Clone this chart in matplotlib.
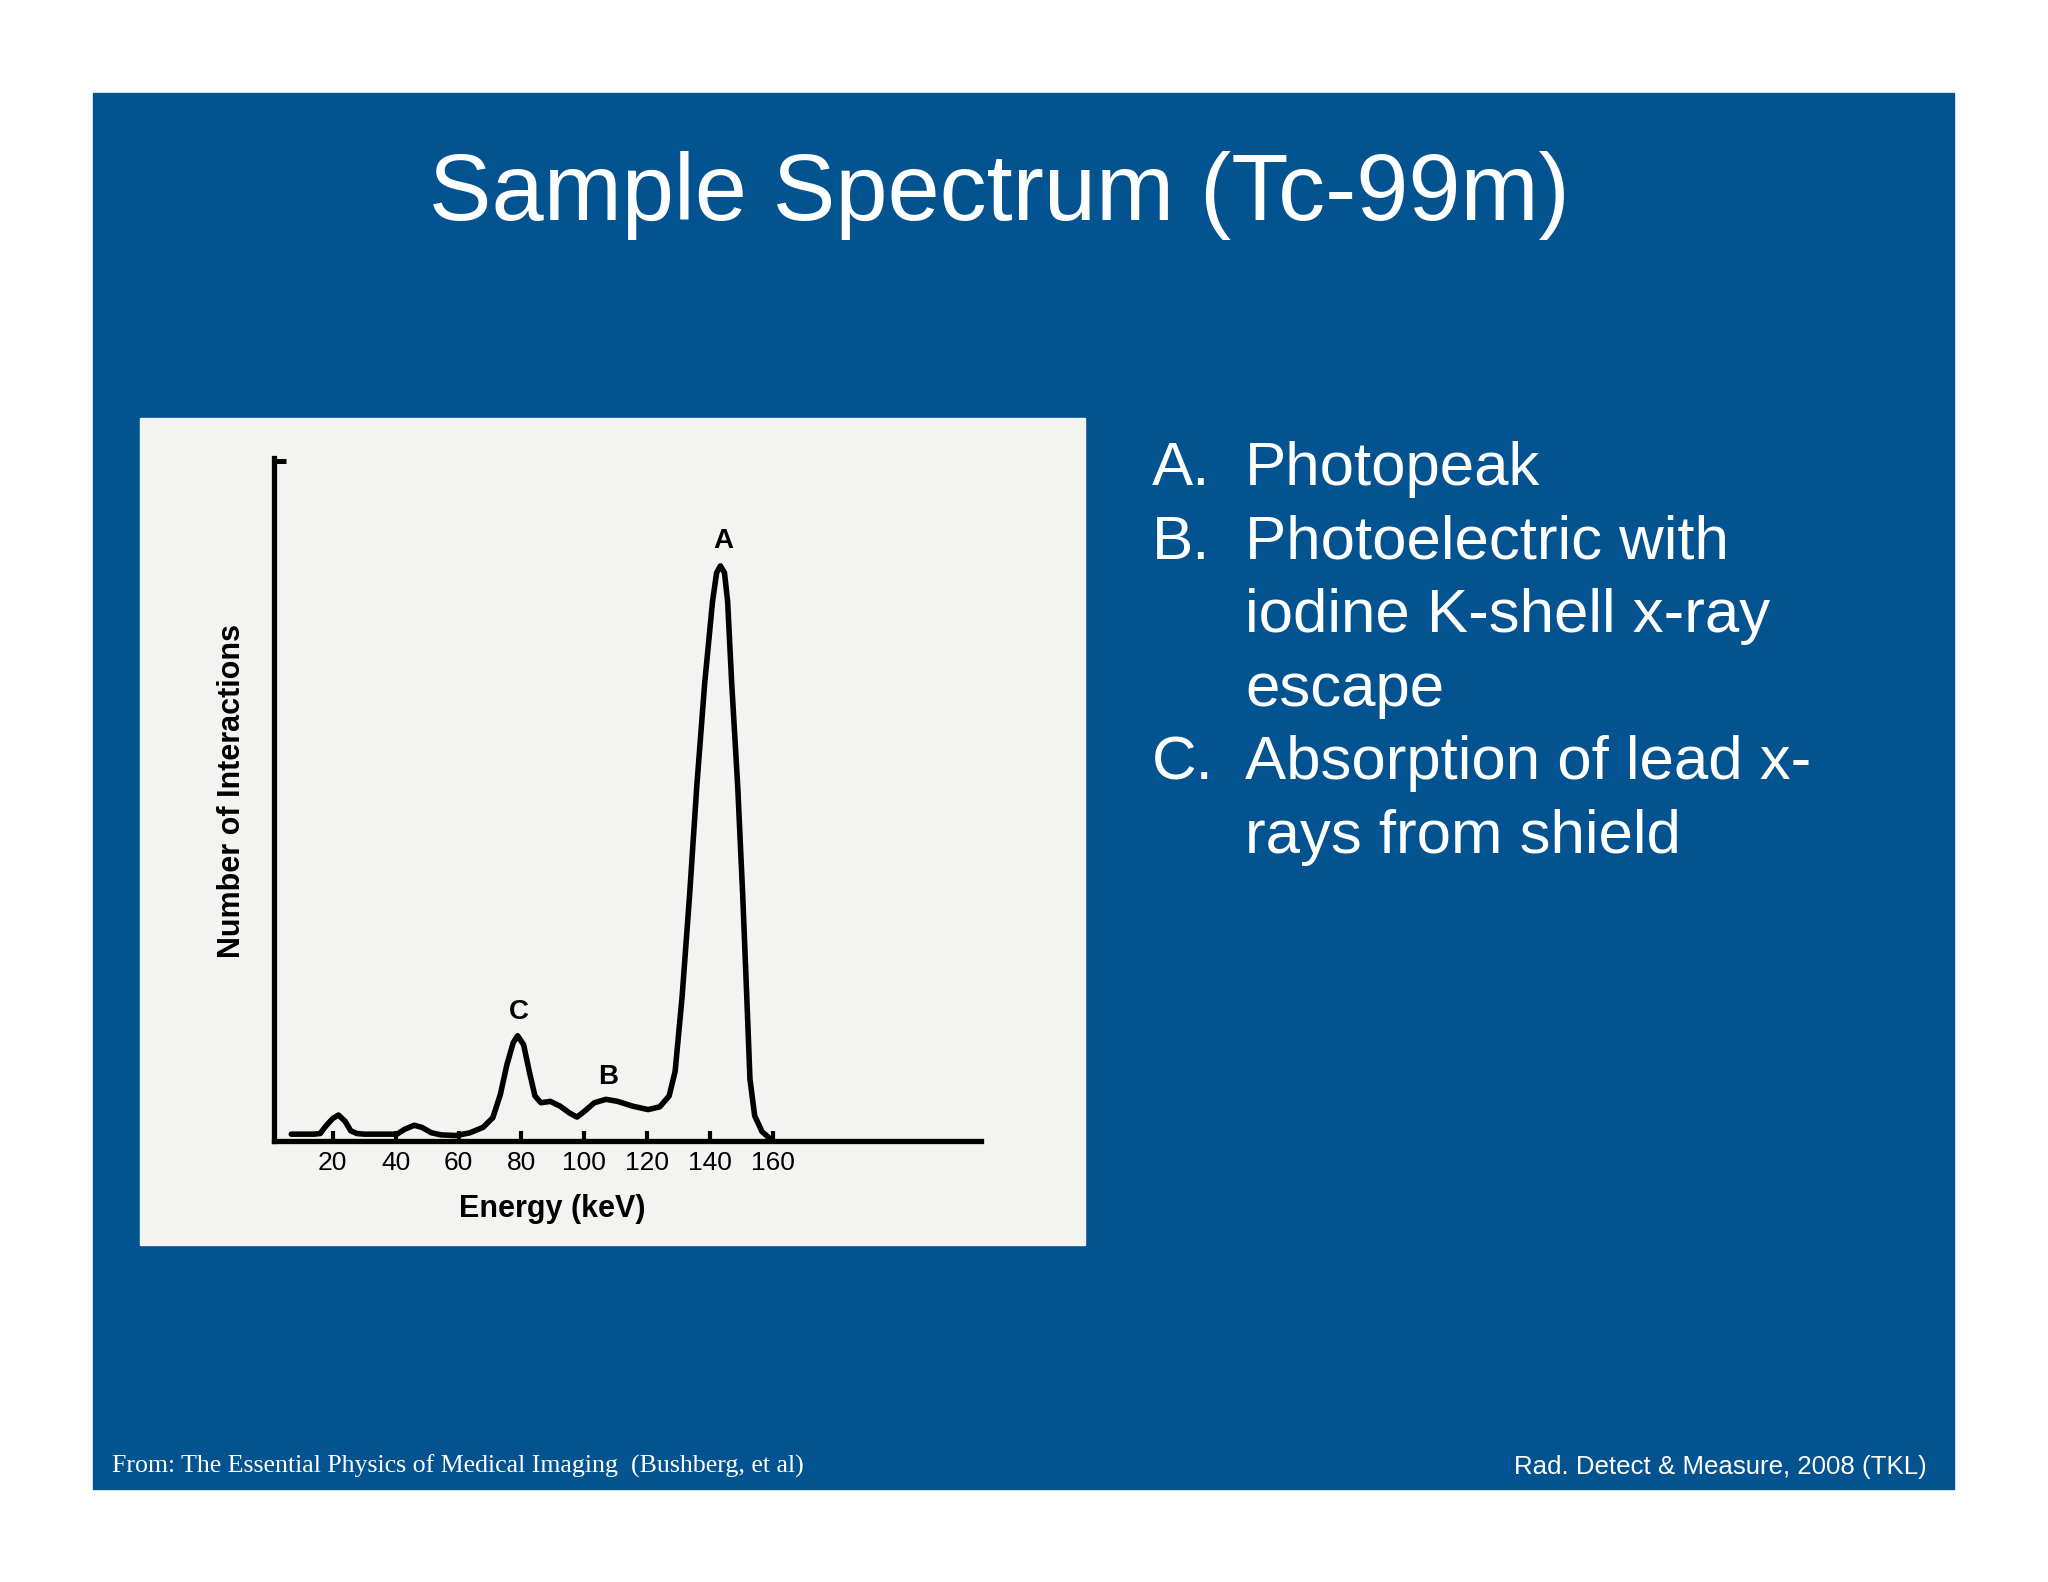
import numpy as np
import matplotlib
matplotlib.use('Agg')
import matplotlib.pyplot as plt
from matplotlib.patches import Rectangle
from matplotlib import font_manager

# 能谱数据，纵轴以轴高为100
energy_kev = [6.8, 10, 14, 16, 17.8, 20, 21.8, 23.9, 25.7, 27.6, 30, 35, 40.4,
              42.8, 45.9, 48.3, 51.4, 54.4, 59.3, 63.6, 67.8, 70.9, 73.3, 75.4,
              77.4, 78.8, 80.7, 82.5, 84.3, 86.2, 89.2, 92.3, 95.3, 97.7, 100.2,
              103.2, 106.9, 110.6, 115.4, 120.3, 124, 127, 128.9, 130.1, 131.1,
              133.5, 135.8, 138.3, 140.8, 142.1, 143.3, 144.6, 145.6, 146.9,
              148.8, 150.4, 151.7, 152.7, 154.2, 156.5, 159.4]
counts = [1.0, 1.0, 1.0, 1.1, 2.2, 3.3, 3.8, 2.9, 1.5, 1.1, 1.0, 1.0, 1.0,
          1.7, 2.3, 2.0, 1.2, 0.9, 0.8, 1.2, 2.0, 3.4, 6.8, 11.2,
          14.4, 15.4, 14.1, 10.2, 6.6, 5.6, 5.8, 5.1, 4.1, 3.5, 4.4,
          5.6, 6.1, 5.8, 5.1, 4.6, 5.0, 6.6, 10.2, 16.1, 21,
          36, 52, 67, 79, 83.2, 84.2, 83.2, 79, 67,
          52, 36, 21, 9.1, 3.7, 1.4, 0.2]
tick_values = [20, 40, 60, 80, 100, 120, 140, 160]

peak_labels = ['A', 'B', 'C']
peak_x = [144.2, 107.6, 79.2]
peak_y = [87.9, 9.4, 18.9]

title = 'Sample Spectrum (Tc-99m)'
bullets = ['A.', 'B.', '', '', 'C.', '']
bullet_text = ['Photopeak', 'Photoelectric with', 'iodine K-shell x-ray',
               'escape', 'Absorption of lead x-', 'rays from shield']
source_note = 'From: The Essential Physics of Medical Imaging  (Bushberg, et al)'
course_note = 'Rad. Detect & Measure, 2008 (TKL)'

W, H = 2048, 1582
BLUE = '#02538F'

plt.rcParams['font.family'] = ['Liberation Sans', 'DejaVu Sans']
names = {f.name for f in font_manager.fontManager.ttflist}
tick_font = 'Liberation Sans Narrow' if 'Liberation Sans Narrow' in names else 'Liberation Sans'


def fx(px):
    return px / W


def fy(py):
    return 1 - py / H


fig = plt.figure(figsize=(W / 100, H / 100), dpi=100)
fig.patch.set_facecolor('white')

# 蓝色幻灯片底板 + 扫描图片底色
fig.add_artist(Rectangle((fx(93), fy(1489)), fx(1954 - 93), (1489 - 93) / H,
                         transform=fig.transFigure, color=BLUE, zorder=-2))
fig.add_artist(Rectangle((fx(140), fy(1245)), fx(1085 - 140), (1245 - 418) / H,
                         transform=fig.transFigure, color='#f3f3f1', zorder=-1))

fig.text(fx(999), fy(220), title, color='white', fontsize=67.5,
         ha='center', va='baseline')

baselines = [485, 558.6, 632.2, 705.8, 779.4, 853]
for b, t, y in zip(bullets, bullet_text, baselines):
    if b:
        fig.text(fx(1152), fy(y), b, color='white', fontsize=44.5, va='baseline')
    fig.text(fx(1245), fy(y), t, color='white', fontsize=44.5, va='baseline')

fig.text(fx(112), fy(1473), source_note, color='white', fontsize=18.6,
         family=['Liberation Serif', 'DejaVu Serif'], va='baseline')
fig.text(fx(1927), fy(1474), course_note, color='white', fontsize=18.6,
         ha='right', va='baseline')

# 能谱图
ax = fig.add_axes([fx(274), fy(1141), fx(981 - 274), (1141 - 458) / H])
ax.set_facecolor('none')
ax.plot(energy_kev, counts, color='black', lw=4.0, solid_joinstyle='round',
        solid_capstyle='round')
ax.set_xlim(1.3, 226.2)
ax.set_ylim(0, 100)
for s in ['top', 'right']:
    ax.spines[s].set_visible(False)
for s in ['left', 'bottom']:
    ax.spines[s].set_linewidth(3.8)
    ax.spines[s].set_color('black')

ax.set_xticks(tick_values)
ax.set_xticklabels([str(v) for v in tick_values], fontfamily=tick_font, fontsize=19)
ax.tick_params(axis='x', direction='in', length=7, width=3, pad=7)
ax.set_yticks([99.6])
ax.set_yticklabels([''])
ax.tick_params(axis='y', direction='in', length=8.6, width=3.6)

ax.set_xlabel('Energy (keV)', fontsize=22, fontweight='bold', va='baseline')
ax.xaxis.set_label_coords(0.393, -0.1113)
ax.set_ylabel('Number of Interactions', fontsize=22, fontweight='bold',
              va='baseline', rotation_mode='anchor')
ax.yaxis.set_label_coords(-0.048, 0.512)

for lab, x, y in zip(peak_labels, peak_x, peak_y):
    ax.text(x, y, lab, fontsize=20, fontweight='bold', ha='center', va='center')

fig.savefig('out.png', dpi=100, facecolor='white')
